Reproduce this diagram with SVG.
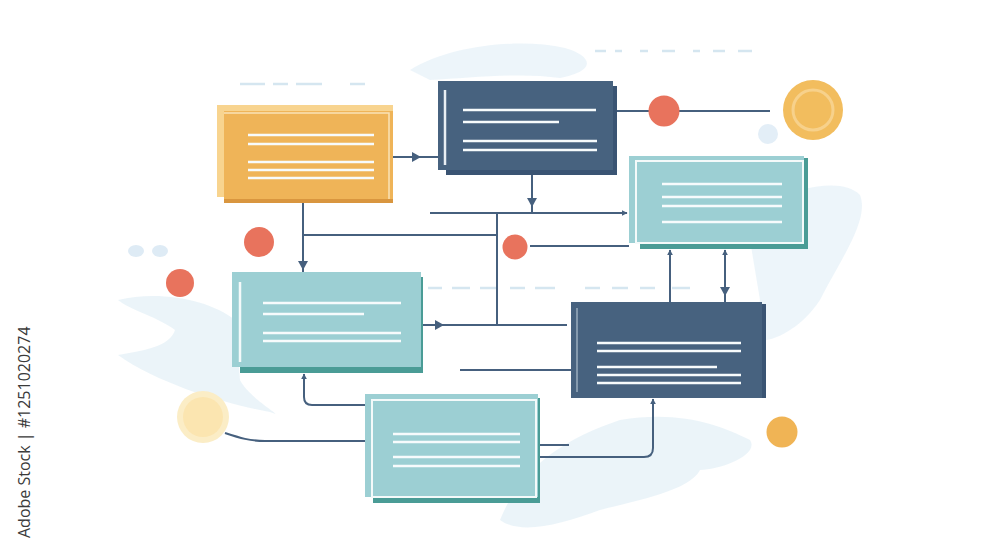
<svg xmlns="http://www.w3.org/2000/svg" width="1000" height="560" viewBox="0 0 1000 560">
<defs>
<style>
.conn{fill:none;stroke:#46607e;stroke-width:2}
.tl{stroke:#f7fbfc;stroke-width:2.6;stroke-linecap:butt}
.blob{fill:#e6f1f8}
.dash{stroke:#d5e6f0;stroke-width:2.5;fill:none}
.wm{font-family:"Open Sans","Liberation Sans",sans-serif;font-size:16px;fill:#3a3a3a}
</style>
<marker id="ah" viewBox="0 0 10 10" refX="9" refY="5" markerWidth="6" markerHeight="6" markerUnits="userSpaceOnUse" orient="auto"><path d="M0,0 L10,5 L0,10 z" fill="#46607e"/></marker>
<path id="tri" d="M-5,-9 L5,-9 L0,0 z" fill="#46607e"/>
</defs>
<rect width="1000" height="560" fill="#ffffff"/>
<!-- background blobs -->
<g id="background">
<path class="blob" d="M118,300 C160,290 210,300 235,320 L240,380 C250,400 290,420 270,412 C230,405 160,385 118,355 C150,350 170,345 175,330 C160,318 130,310 118,300 z" opacity="0.8"/>
<path class="blob" d="M410,70 C450,45 520,38 565,48 C590,55 600,70 560,78 C520,72 470,78 430,80 z" opacity="0.7"/>
<path class="blob" d="M500,520 C520,470 560,440 620,420 C680,410 720,425 750,440 C760,455 720,470 700,470 C690,490 640,500 600,510 C560,525 520,535 500,520 z" opacity="0.8"/>
<path class="blob" d="M745,210 C790,190 840,175 860,195 C870,220 840,260 820,300 C800,330 770,345 750,340 L760,300 z" opacity="0.7"/>
<ellipse cx="136" cy="251" rx="8" ry="6" fill="#deebf5"/>
<ellipse cx="160" cy="251" rx="8" ry="6" fill="#deebf5"/>
<circle cx="768" cy="134" r="10" fill="#e3eef7"/>
<path class="dash" d="M240,84 H265 M273,84 H288 M296,84 H322 M350,84 H365"/>
<path class="dash" d="M595,51 H606 M615,51 H622 M640,51 H648 M662,51 H675 M693,51 H700 M713,51 H725 M738,51 H752"/>
<path class="dash" d="M428,288 H442 M452,288 H470 M480,288 H498 M510,288 H525 M535,288 H555 M585,288 H600 M612,288 H628 M640,288 H655 M672,288 H690" stroke-width="2"/>
</g>
<!-- connectors -->
<g id="connectors">
<path class="conn" d="M393,157 H438"/>
<use href="#tri" transform="translate(421,157) rotate(-90)"/>
<path class="conn" d="M532,175 V213"/>
<use href="#tri" transform="translate(532,207)"/>
<path class="conn" d="M430,213 H627" marker-end="url(#ah)"/>
<path class="conn" d="M497,213 V325"/>
<path class="conn" d="M421,325 H567"/>
<use href="#tri" transform="translate(444,325) rotate(-90)"/>
<path class="conn" d="M303,203 V272"/>
<use href="#tri" transform="translate(303,270)"/>
<path class="conn" d="M303,235 H497"/>
<path class="conn" d="M530,246 H629"/>
<path class="conn" d="M670,302 V250" marker-end="url(#ah)"/>
<path class="conn" d="M725,302 V250" marker-end="url(#ah)"/>
<use href="#tri" transform="translate(725,296)"/>
<path class="conn" d="M460,370 H571"/>
<path class="conn" d="M365,405 H312 Q304,405 304,397 V374" marker-end="url(#ah)"/>
<path class="conn" d="M225,433 C240,438 250,441 265,441 H365"/>
<path class="conn" d="M538,445 H569"/>
<path class="conn" d="M538,457 H644 Q653,457 653,448 V399" marker-end="url(#ah)"/>
<path class="conn" d="M617,111 H770"/>
</g>
<!-- circles -->
<g id="circle-red-top"><circle cx="664" cy="111" r="15.5" fill="#e8735d"/></g>
<g id="circle-red-mid"><circle cx="515" cy="247" r="12.5" fill="#e8735d"/></g>
<g id="circle-red-left1"><circle cx="259" cy="242" r="15" fill="#e8735d"/></g>
<g id="circle-red-left2"><circle cx="180" cy="283" r="14" fill="#e8735d"/></g>
<g id="circle-orange-top"><circle cx="813" cy="110" r="30" fill="#f2bd5e"/><circle cx="813" cy="110" r="20" fill="none" stroke="#f7d18b" stroke-width="3"/></g>
<g id="circle-orange-bottom"><circle cx="782" cy="432" r="15.5" fill="#f0b455"/></g>
<g id="circle-yellow-left"><circle cx="203" cy="417" r="26" fill="#fbedc6"/><circle cx="203" cy="417" r="20" fill="#fbe5b0"/></g>
<!-- nodes -->
<g id="node-orange">
<rect x="217" y="105" width="176" height="92" fill="#f8d48f"/>
<rect x="224" y="111" width="169" height="92" fill="#d9963f"/>
<rect x="224" y="111" width="169" height="88" fill="#efb458"/>
<path d="M224,113 H389 V199" fill="none" stroke="#fae2b6" stroke-width="1.5"/>
<path class="tl" d="M248,135 H374 M248,144 H374 M248,162 H374 M248,170 H374 M248,178 H374"/>
</g>
<g id="node-dark-top">
<rect x="446" y="86" width="171" height="89" fill="#3a5473"/>
<rect x="438" y="81" width="175" height="89" fill="#47627f"/>
<path d="M445,90 V165" stroke="#e9eff4" stroke-width="2.5"/>
<path class="tl" d="M463,110 H596 M463,122 H559 M463,141 H597 M463,150 H597"/>
</g>
<g id="node-teal-right">
<rect x="640" y="158" width="168" height="91" fill="#4a9c96"/>
<rect x="629" y="156" width="175" height="87" fill="#9ccfd3"/>
<rect x="636" y="161" width="167" height="82" fill="none" stroke="#f4fafa" stroke-width="2"/>
<path class="tl" d="M662,184 H782 M662,197 H782 M662,206 H782 M662,222 H782"/>
</g>
<g id="node-teal-left">
<rect x="240" y="277" width="183" height="96" fill="#4a9c96"/>
<rect x="232" y="272" width="189" height="95" fill="#9ccfd3"/>
<path d="M240,282 V362" stroke="#f4fafa" stroke-width="2.5"/>
<path class="tl" d="M263,303 H401 M263,314 H364 M263,333 H401 M263,341 H401"/>
</g>
<g id="node-dark-right">
<rect x="575" y="304" width="191" height="94" fill="#3a5473"/>
<rect x="571" y="302" width="191" height="96" fill="#47627f"/>
<path d="M577,308 V392" stroke="#c4d2de" stroke-width="1"/>
<path class="tl" d="M597,343 H741 M597,351 H741 M597,367 H717 M597,375 H741 M597,383 H741"/>
</g>
<g id="node-teal-bottom">
<rect x="373" y="398" width="167" height="105" fill="#4a9c96"/>
<rect x="365" y="394" width="173" height="103" fill="#9ccfd3"/>
<rect x="372" y="400" width="164" height="97" fill="none" stroke="#f4fafa" stroke-width="2"/>
<path class="tl" d="M393,434 H520 M393,442 H520 M393,457 H520 M393,466 H520"/>
</g>
<text class="wm" transform="translate(30,538) rotate(-90)">Adobe Stock | #1251020274</text>
</svg>
